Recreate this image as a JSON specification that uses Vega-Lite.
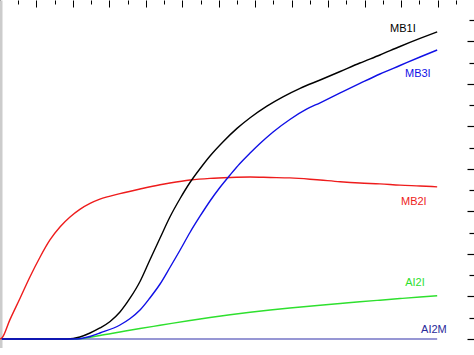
{
  "$schema": "https://vega.github.io/schema/vega-lite/v6.json",
  "width": 474,
  "height": 348,
  "padding": 0,
  "autosize": {"type": "none"},
  "config": {"view": {"stroke": null}, "font": "Liberation Sans"},
  "datasets": {
    "curves": [
      {"s": "AI2M", "x": 0.05, "y": 0}, {"s": "AI2M", "x": 11.99, "y": 0},
      {"s": "AI2I", "x": 0.05, "y": 0}, {"s": "AI2I", "x": 2.06, "y": 0}, {"s": "AI2I", "x": 2.74, "y": 0.082}, {"s": "AI2I", "x": 3.29, "y": 0.165}, {"s": "AI2I", "x": 3.84, "y": 0.247}, {"s": "AI2I", "x": 4.39, "y": 0.322}, {"s": "AI2I", "x": 5.21, "y": 0.435}, {"s": "AI2I", "x": 5.76, "y": 0.506}, {"s": "AI2I", "x": 6.31, "y": 0.569}, {"s": "AI2I", "x": 6.86, "y": 0.628}, {"s": "AI2I", "x": 7.41, "y": 0.682}, {"s": "AI2I", "x": 7.95, "y": 0.729}, {"s": "AI2I", "x": 8.78, "y": 0.795}, {"s": "AI2I", "x": 9.33, "y": 0.835}, {"s": "AI2I", "x": 9.87, "y": 0.875}, {"s": "AI2I", "x": 10.42, "y": 0.913}, {"s": "AI2I", "x": 10.97, "y": 0.951}, {"s": "AI2I", "x": 11.52, "y": 0.988}, {"s": "AI2I", "x": 11.99, "y": 1.016},
      {"s": "MB2I", "x": 0.0, "y": 0}, {"s": "MB2I", "x": 0.05, "y": 0.02}, {"s": "MB2I", "x": 0.27, "y": 0.45}, {"s": "MB2I", "x": 0.55, "y": 0.96}, {"s": "MB2I", "x": 0.82, "y": 1.46}, {"s": "MB2I", "x": 1.10, "y": 1.93}, {"s": "MB2I", "x": 1.37, "y": 2.33}, {"s": "MB2I", "x": 1.65, "y": 2.64}, {"s": "MB2I", "x": 1.92, "y": 2.87}, {"s": "MB2I", "x": 2.19, "y": 3.05}, {"s": "MB2I", "x": 2.47, "y": 3.19}, {"s": "MB2I", "x": 2.74, "y": 3.29}, {"s": "MB2I", "x": 3.29, "y": 3.42}, {"s": "MB2I", "x": 3.84, "y": 3.53}, {"s": "MB2I", "x": 4.39, "y": 3.63}, {"s": "MB2I", "x": 4.66, "y": 3.67}, {"s": "MB2I", "x": 5.21, "y": 3.74}, {"s": "MB2I", "x": 5.76, "y": 3.78}, {"s": "MB2I", "x": 6.31, "y": 3.80}, {"s": "MB2I", "x": 6.86, "y": 3.81}, {"s": "MB2I", "x": 7.41, "y": 3.80}, {"s": "MB2I", "x": 7.95, "y": 3.79}, {"s": "MB2I", "x": 8.50, "y": 3.76}, {"s": "MB2I", "x": 8.78, "y": 3.74}, {"s": "MB2I", "x": 9.33, "y": 3.70}, {"s": "MB2I", "x": 9.87, "y": 3.67}, {"s": "MB2I", "x": 10.42, "y": 3.65}, {"s": "MB2I", "x": 10.97, "y": 3.62}, {"s": "MB2I", "x": 11.52, "y": 3.60}, {"s": "MB2I", "x": 11.99, "y": 3.58},
      {"s": "MB1I", "x": 0.05, "y": 0}, {"s": "MB1I", "x": 1.84, "y": 0}, {"s": "MB1I", "x": 2.19, "y": 0.047}, {"s": "MB1I", "x": 2.47, "y": 0.141}, {"s": "MB1I", "x": 2.74, "y": 0.259}, {"s": "MB1I", "x": 3.02, "y": 0.412}, {"s": "MB1I", "x": 3.29, "y": 0.635}, {"s": "MB1I", "x": 3.57, "y": 0.965}, {"s": "MB1I", "x": 3.84, "y": 1.353}, {"s": "MB1I", "x": 4.11, "y": 1.859}, {"s": "MB1I", "x": 4.39, "y": 2.376}, {"s": "MB1I", "x": 4.66, "y": 2.871}, {"s": "MB1I", "x": 4.94, "y": 3.306}, {"s": "MB1I", "x": 5.21, "y": 3.682}, {"s": "MB1I", "x": 5.49, "y": 4.012}, {"s": "MB1I", "x": 5.76, "y": 4.306}, {"s": "MB1I", "x": 6.12, "y": 4.642}, {"s": "MB1I", "x": 6.50, "y": 4.955}, {"s": "MB1I", "x": 6.86, "y": 5.207}, {"s": "MB1I", "x": 7.32, "y": 5.48}, {"s": "MB1I", "x": 7.76, "y": 5.699}, {"s": "MB1I", "x": 8.23, "y": 5.899}, {"s": "MB1I", "x": 8.78, "y": 6.094}, {"s": "MB1I", "x": 9.33, "y": 6.294}, {"s": "MB1I", "x": 9.87, "y": 6.494}, {"s": "MB1I", "x": 10.42, "y": 6.682}, {"s": "MB1I", "x": 10.97, "y": 6.882}, {"s": "MB1I", "x": 11.52, "y": 7.071}, {"s": "MB1I", "x": 11.99, "y": 7.224},
      {"s": "MB3I", "x": 0.05, "y": 0}, {"s": "MB3I", "x": 2.11, "y": 0}, {"s": "MB3I", "x": 2.47, "y": 0.059}, {"s": "MB3I", "x": 2.74, "y": 0.141}, {"s": "MB3I", "x": 3.29, "y": 0.329}, {"s": "MB3I", "x": 3.57, "y": 0.482}, {"s": "MB3I", "x": 3.84, "y": 0.682}, {"s": "MB3I", "x": 4.11, "y": 0.965}, {"s": "MB3I", "x": 4.39, "y": 1.294}, {"s": "MB3I", "x": 4.66, "y": 1.682}, {"s": "MB3I", "x": 4.94, "y": 2.094}, {"s": "MB3I", "x": 5.21, "y": 2.506}, {"s": "MB3I", "x": 5.49, "y": 2.894}, {"s": "MB3I", "x": 5.76, "y": 3.247}, {"s": "MB3I", "x": 6.03, "y": 3.565}, {"s": "MB3I", "x": 6.31, "y": 3.859}, {"s": "MB3I", "x": 6.58, "y": 4.129}, {"s": "MB3I", "x": 6.86, "y": 4.376}, {"s": "MB3I", "x": 7.13, "y": 4.6}, {"s": "MB3I", "x": 7.49, "y": 4.871}, {"s": "MB3I", "x": 7.95, "y": 5.165}, {"s": "MB3I", "x": 8.42, "y": 5.412}, {"s": "MB3I", "x": 8.78, "y": 5.558}, {"s": "MB3I", "x": 9.33, "y": 5.788}, {"s": "MB3I", "x": 9.87, "y": 6.012}, {"s": "MB3I", "x": 10.42, "y": 6.235}, {"s": "MB3I", "x": 10.97, "y": 6.435}, {"s": "MB3I", "x": 11.52, "y": 6.635}, {"s": "MB3I", "x": 11.99, "y": 6.8}
    ],
    "labels": [
      {"s": "MB1I", "x": 11.05, "y": 7.29},
      {"s": "MB3I", "x": 11.46, "y": 6.24},
      {"s": "MB2I", "x": 11.35, "y": 3.22},
      {"s": "AI2I", "x": 11.38, "y": 1.32},
      {"s": "AI2M", "x": 11.9, "y": 0.21}
    ]
  },
  "resolve": {"axis": {"x": "independent", "y": "independent"}, "scale": {"color": "independent"}},
  "layer": [
    {
      "data": {"name": "curves"},
      "mark": {"type": "line", "strokeWidth": 1.4, "interpolate": "monotone"},
      "encoding": {
        "x": {"field": "x", "type": "quantitative", "scale": {"domain": [0, 13], "nice": false, "zero": false},
          "axis": {"orient": "bottom", "title": null, "labels": false, "grid": false, "domain": true, "domainColor": "#000", "domainWidth": 1,
            "values": [0,0.5,1,1.5,2,2.5,3,3.5,4,4.5,5,5.5,6,6.5,7,7.5,8,8.5,9,9.5,10,10.5,11,11.5,12,12.5,13],
            "tickColor": "#000", "tickWidth": 1,
            "tickSize": {"condition": {"test": "datum.value % 1 === 0", "value": 8}, "value": 4}}},
        "y": {"field": "y", "type": "quantitative", "scale": {"domain": [-0.212, 7.976], "nice": false, "zero": false},
          "axis": {"orient": "left", "title": null, "labels": false, "ticks": false, "grid": false, "domain": true, "domainColor": "#cccccc", "domainWidth": 4}},
        "color": {"field": "s", "type": "nominal", "legend": null,
          "scale": {"domain": ["AI2M", "AI2I", "MB2I", "MB1I", "MB3I"], "range": ["#7474c6", "#2ee02e", "#ee1c1c", "#000000", "#1010e6"]}},
        "strokeWidth": {"field": "s", "type": "nominal", "legend": null,
          "scale": {"domain": ["AI2M", "AI2I", "MB2I", "MB1I", "MB3I"], "range": [2, 1.2, 1.4, 1.7, 1.7]}}
      }
    },
    {
      "data": {"name": "labels"},
      "mark": {"type": "text", "font": "Liberation Sans", "fontSize": 11, "align": "center", "baseline": "middle"},
      "encoding": {
        "x": {"field": "x", "type": "quantitative",
          "axis": {"orient": "top", "title": null, "labels": false, "grid": false, "domain": false,
            "values": [0,0.5,1,1.5,2,2.5,3,3.5,4,4.5,5,5.5,6,6.5,7,7.5,8,8.5,9,9.5,10,10.5,11,11.5,12,12.5,13],
            "tickColor": "#000", "tickWidth": 1,
            "tickSize": {"condition": {"test": "datum.value % 1 === 0", "value": -7}, "value": -4}}},
        "y": {"field": "y", "type": "quantitative",
          "axis": {"orient": "right", "title": null, "labels": false, "grid": false, "domain": false,
            "values": [0,0.5,1,1.5,2,2.5,3,3.5,4,4.5,5,5.5,6,6.5,7,7.5],
            "tickColor": "#000", "tickWidth": 1.2,
            "tickSize": {"condition": {"test": "datum.value % 1 === 0", "value": -7}, "value": -5}}},
        "text": {"field": "s", "type": "nominal"},
        "color": {"field": "s", "type": "nominal", "legend": null,
          "scale": {"domain": ["AI2M", "AI2I", "MB2I", "MB1I", "MB3I"], "range": ["#2a2a9a", "#2ee02e", "#ee1c1c", "#000000", "#1010e6"]}}
      }
    }
  ]
}
